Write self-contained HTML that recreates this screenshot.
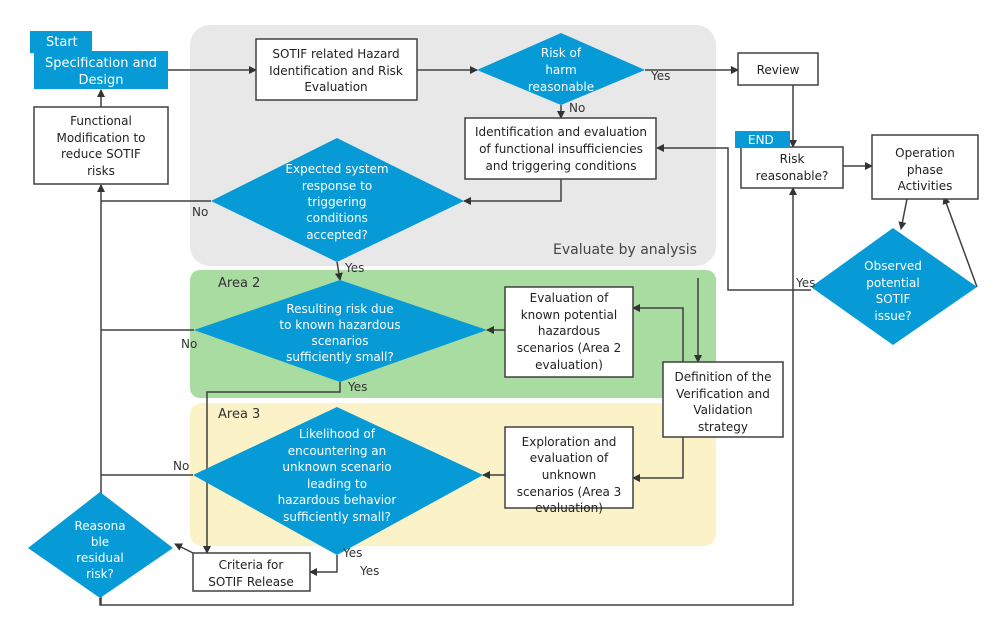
<!DOCTYPE html>
<html><head><meta charset="utf-8"><style>
html,body{margin:0;padding:0;background:#fff;}
svg{display:block;font-family:"DejaVu Sans","Liberation Sans",sans-serif;}
.b{fill:#fff;stroke:#404040;stroke-width:1.5}
.d{fill:#069bd6}
.l{fill:none;stroke:#404040;stroke-width:1.5}
.t{font-size:12px;fill:#222;text-anchor:middle}
.w{font-size:12px;fill:#fff;text-anchor:middle}
.s{font-size:12px;fill:#333}
</style></head><body>
<svg width="993" height="619" viewBox="0 0 993 619">
<defs><marker id="a" markerWidth="8" markerHeight="8" refX="7" refY="4" orient="auto" markerUnits="userSpaceOnUse"><path d="M0,0 L8,4 L0,8z" fill="#333"/></marker></defs>
<rect x="190" y="25" width="526" height="241" rx="20" fill="#e8e8e8"/>
<rect x="190" y="270" width="526" height="128" rx="10" fill="#a8dca0"/>
<rect x="190" y="403" width="526" height="143" rx="12" fill="#fcf2c8"/>
<text x="553" y="254" style="font-size:14px;fill:#444">Evaluate by analysis</text>
<text x="218" y="287" style="font-size:13px;fill:#333">Area 2</text>
<text x="218" y="418" style="font-size:13px;fill:#333">Area 3</text>

<!-- connectors -->
<path class="l" d="M168,70 L256,70" marker-end="url(#a)"/>
<path class="l" d="M417,70 L477,70" marker-end="url(#a)"/>
<path class="l" d="M645,70 L738,70" marker-end="url(#a)"/>
<path class="l" d="M561,105 L561,118" marker-end="url(#a)"/>
<path class="l" d="M101,107 L101,90" marker-end="url(#a)"/>
<path class="l" d="M561,179 L561,201 L464,201" marker-end="url(#a)"/>
<path class="l" d="M211,201 L101,201"/>
<path class="l" d="M101,605 L101,185" marker-end="url(#a)"/>
<path class="l" d="M337,262 L340,280" marker-end="url(#a)"/>
<path class="l" d="M194,330 L101,330"/>
<path class="l" d="M193,475 L101,475"/>
<path class="l" d="M505,330 L487,330" marker-end="url(#a)"/>
<path class="l" d="M505,475 L483,475" marker-end="url(#a)"/>
<path class="l" d="M683,362 L683,308 L633,308" marker-end="url(#a)"/>
<path class="l" d="M683,437 L683,478 L633,478" marker-end="url(#a)"/>
<path class="l" d="M698,278 L698,362" marker-end="url(#a)"/>
<path class="l" d="M340,382 L340,392 L207,392 L207,553" marker-end="url(#a)"/>
<path class="l" d="M337,555 L337,572 L310,572" marker-end="url(#a)"/>
<path class="l" d="M193,553 L175,544" marker-end="url(#a)"/>
<path class="l" d="M100,598 L100,605 L793,605 L793,188" marker-end="url(#a)"/>
<path class="l" d="M793,85 L793,147" marker-end="url(#a)"/>
<path class="l" d="M843,166 L872,166" marker-end="url(#a)"/>
<path class="l" d="M907,199 L901,229" marker-end="url(#a)"/>
<path class="l" d="M977,287 L944,197" marker-end="url(#a)"/>
<path class="l" d="M811,290 L728,290 L728,148 L657,148" marker-end="url(#a)"/>

<!-- boxes -->
<rect x="30" y="31" width="62" height="22" class="d"/>
<rect x="34" y="51" width="134" height="38" class="d"/>
<text x="46" y="46" class="w" style="text-anchor:start;font-size:13px">Start</text>
<text class="w" style="font-size:13px"><tspan x="101" y="67">Specification and</tspan><tspan x="101" y="84">Design</tspan></text>

<rect x="256" y="39" width="161" height="61" class="b"/>
<text class="t"><tspan x="336" y="58">SOTIF related Hazard</tspan><tspan x="336" y="75">Identification and Risk</tspan><tspan x="336" y="91">Evaluation</tspan></text>

<rect x="34" y="107" width="134" height="77" class="b"/>
<text class="t"><tspan x="101" y="125">Functional</tspan><tspan x="101" y="142">Modification to</tspan><tspan x="101" y="158">reduce SOTIF</tspan><tspan x="101" y="175">risks</tspan></text>

<rect x="465" y="118" width="191" height="61" class="b"/>
<text class="t"><tspan x="561" y="136">Identification and evaluation</tspan><tspan x="561" y="153">of functional insufficiencies</tspan><tspan x="561" y="170">and triggering conditions</tspan></text>

<rect x="738" y="53" width="80" height="32" class="b"/>
<text x="778" y="74" class="t">Review</text>

<rect x="741" y="147" width="102" height="41" class="b"/>
<rect x="735" y="131" width="55" height="17" class="d"/>
<text x="748" y="144" class="w" style="text-anchor:start">END</text>
<text class="t"><tspan x="792" y="163">Risk</tspan><tspan x="792" y="180">reasonable?</tspan></text>

<rect x="872" y="135" width="106" height="64" class="b"/>
<text class="t"><tspan x="925" y="157">Operation</tspan><tspan x="925" y="174">phase</tspan><tspan x="925" y="190">Activities</tspan></text>

<rect x="505" y="287" width="128" height="90" class="b"/>
<text class="t"><tspan x="569" y="302">Evaluation of</tspan><tspan x="569" y="319">known potential</tspan><tspan x="569" y="335">hazardous</tspan><tspan x="569" y="352">scenarios (Area 2</tspan><tspan x="569" y="369">evaluation)</tspan></text>

<rect x="663" y="362" width="120" height="75" class="b"/>
<text class="t"><tspan x="723" y="381">Definition of the</tspan><tspan x="723" y="398">Verification and</tspan><tspan x="723" y="414">Validation</tspan><tspan x="723" y="431">strategy</tspan></text>

<rect x="505" y="427" width="128" height="81" class="b"/>
<text class="t"><tspan x="569" y="446">Exploration and</tspan><tspan x="569" y="462">evaluation of</tspan><tspan x="569" y="479">unknown</tspan><tspan x="569" y="496">scenarios (Area 3</tspan><tspan x="569" y="512">evaluation)</tspan></text>

<rect x="193" y="553" width="117" height="38" class="b"/>
<text class="t"><tspan x="251" y="569">Criteria for</tspan><tspan x="251" y="586">SOTIF Release</tspan></text>

<!-- diamonds -->
<polygon class="d" points="561,33 645,70 561,105 477,70"/>
<text class="w"><tspan x="561" y="57">Risk of</tspan><tspan x="561" y="74">harm</tspan><tspan x="561" y="91">reasonable</tspan></text>

<polygon class="d" points="337,138 464,201 337,262 211,201"/>
<text class="w"><tspan x="337" y="173">Expected system</tspan><tspan x="337" y="190">response to</tspan><tspan x="337" y="206">triggering</tspan><tspan x="337" y="222">conditions</tspan><tspan x="337" y="239">accepted?</tspan></text>

<polygon class="d" points="340,280 487,330 340,382 194,330"/>
<text class="w"><tspan x="340" y="313">Resulting risk due</tspan><tspan x="340" y="329">to known hazardous</tspan><tspan x="340" y="345">scenarios</tspan><tspan x="340" y="361">sufficiently small?</tspan></text>

<polygon class="d" points="337,407 483,475 337,555 193,475"/>
<text class="w"><tspan x="337" y="438">Likelihood of</tspan><tspan x="337" y="455">encountering an</tspan><tspan x="337" y="471">unknown scenario</tspan><tspan x="337" y="488">leading to</tspan><tspan x="337" y="504">hazardous behavior</tspan><tspan x="337" y="521">sufficiently small?</tspan></text>

<polygon class="d" points="100,492 173,548 100,598 28,548"/>
<text class="w"><tspan x="100" y="530">Reasona</tspan><tspan x="100" y="546">ble</tspan><tspan x="100" y="562">residual</tspan><tspan x="100" y="578">risk?</tspan></text>

<polygon class="d" points="893,228 977,287 893,345 811,287"/>
<text class="w"><tspan x="893" y="270">Observed</tspan><tspan x="893" y="287">potential</tspan><tspan x="893" y="303">SOTIF</tspan><tspan x="893" y="320">issue?</tspan></text>

<!-- labels -->
<text x="651" y="80" class="s">Yes</text>
<text x="569" y="112" class="s">No</text>
<text x="192" y="216" class="s">No</text>
<text x="345" y="272" class="s">Yes</text>
<text x="181" y="348" class="s">No</text>
<text x="348" y="391" class="s">Yes</text>
<text x="173" y="470" class="s">No</text>
<text x="343" y="557" class="s">Yes</text>
<text x="360" y="575" class="s">Yes</text>
<text x="796" y="287" class="s">Yes</text>
</svg>
</body></html>
